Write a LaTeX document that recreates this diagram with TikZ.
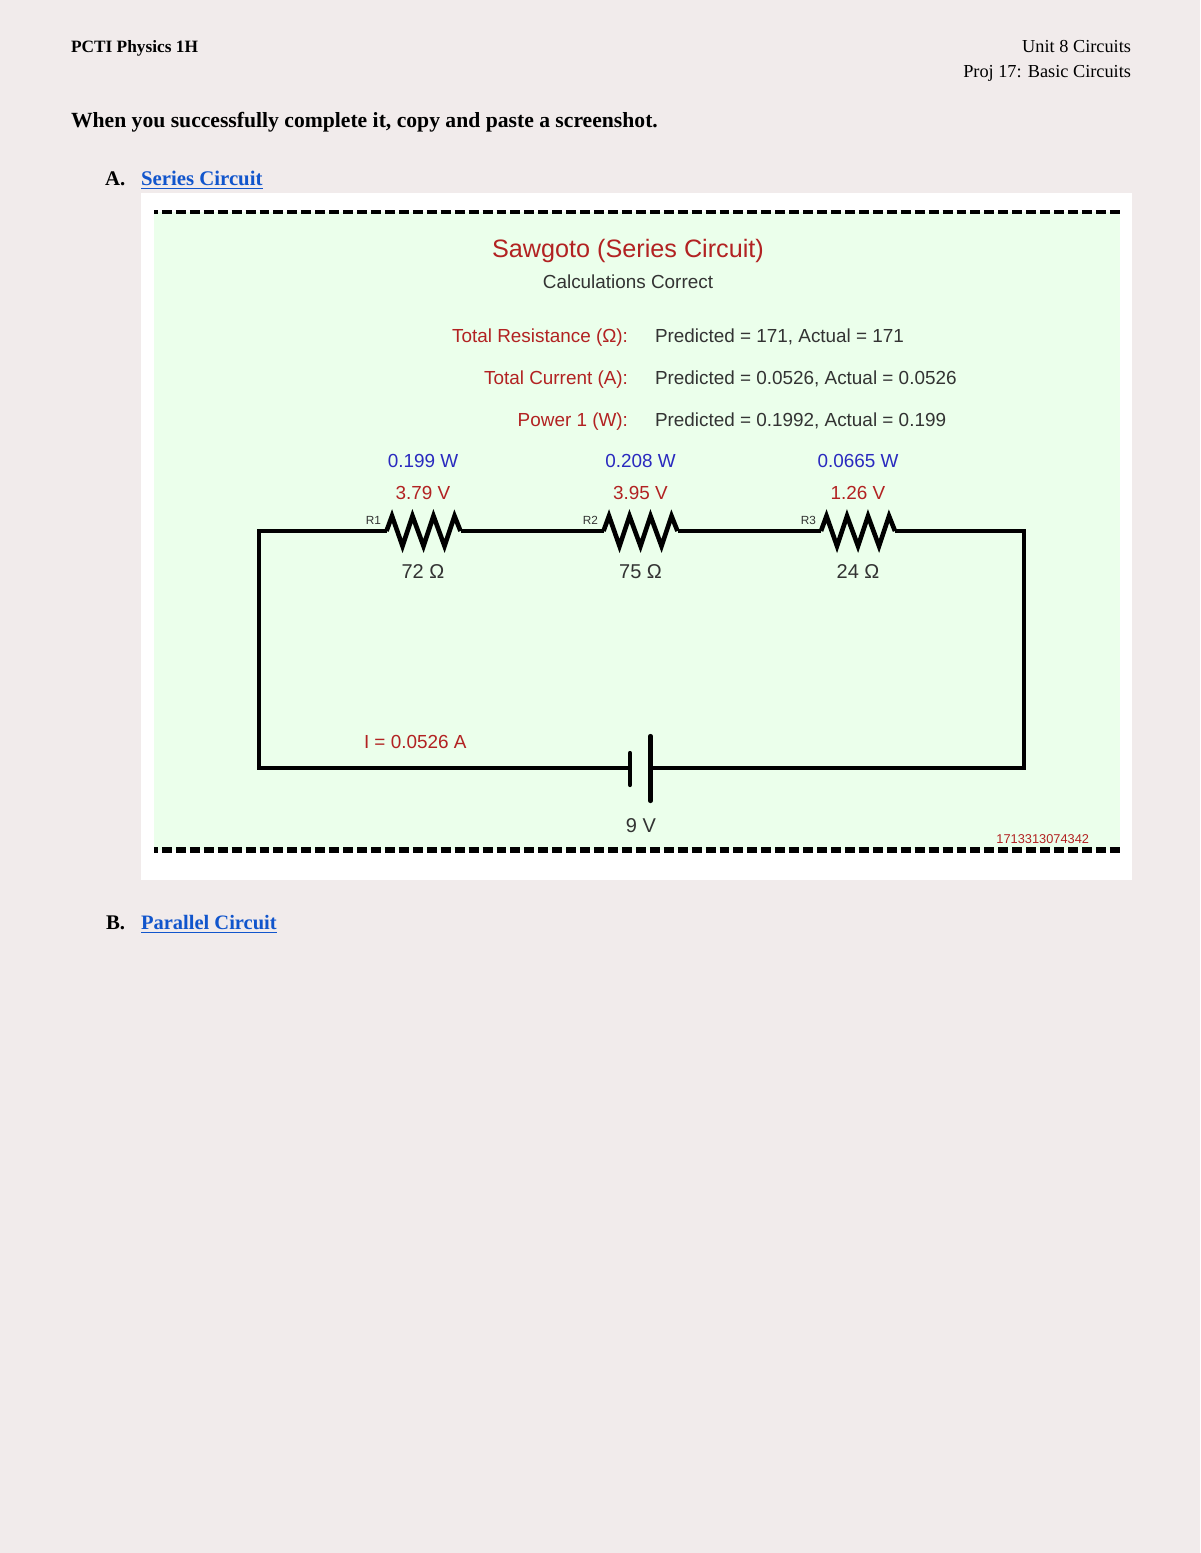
\documentclass[tikz,border=0pt]{standalone}
\usepackage{fontspec}
\setmainfont{Liberation Serif}
\setsansfont{Liberation Sans}
\definecolor{pagebg}{HTML}{F1EBEB}
\definecolor{shotbg}{HTML}{EBFFEB}
\definecolor{linkblue}{HTML}{1155CC}
\definecolor{lblred}{HTML}{B22222}
\definecolor{lblblue}{HTML}{2A2ABF}
\definecolor{lblgray}{HTML}{333333}
\tikzset{
  txt/.style={inner sep=0pt,outer sep=0pt,anchor=base},
  doc/.style={txt,font=\fontsize{9.15}{11}\selectfont},
  docbig/.style={txt,font=\fontsize{10.4}{12}\selectfont\bfseries},
  sans/.style={txt,font=\fontsize{9.45}{12}\selectfont\sffamily},
  title/.style={sans,text=lblred,font=\fontsize{12.6}{14}\selectfont\sffamily},
  tiny/.style={sans,text=lblgray,font=\fontsize{5.9}{7}\selectfont\sffamily,anchor=base east},
  wire/.style={draw=black,line width=2.1pt,line join=miter},
  zig/.style={draw=black,line width=2.3pt,line join=miter,miter limit=10},
  plate/.style={draw=black,line width=2.1pt,line cap=round},
  dashrule/.style={draw=black,dash pattern=on 4.97pt off 2pt,dash phase=3pt}
}
\newcommand{\zigzag}[1]{(#1) ++(-37,0) -- ++(5.5,-15) -- ++(10.5,30) -- ++(10,-30) -- ++(11,30) -- ++(10,-30) -- ++(11,30) -- ++(10,-30) -- ++(6,15)}
\begin{document}
\begin{tikzpicture}[x=0.5pt,y=-0.5pt]
\useasboundingbox (0,0) rectangle (1200,1553);
\fill[pagebg] (0,0) rectangle (1200,1553);
\fill[white] (141,193) rectangle (1132,880);
\fill[shotbg] (154,212) rectangle (1120,850);
\path[dashrule,line width=2pt] (154,212) -- (1120,212);
\path[dashrule,line width=2.6pt] (154,850) -- (1120,850);

% page text
\node[doc,font=\fontsize{8.66}{11}\selectfont\bfseries,anchor=base west] (hl) at (71,52) {PCTI Physics 1H};
\node[doc,anchor=base east] (hr1) at (1131,52) {Unit 8 Circuits};
\node[doc,anchor=base east] (hr2) at (1131,77) {Proj 17: Basic Circuits};
\node[docbig,font=\fontsize{10.82}{12}\selectfont\bfseries,anchor=base west] (intro) at (71,127) {When you successfully complete it, copy and paste a screenshot.};
\node[docbig,anchor=base west] (la) at (105,185) {A.};
\node[docbig,text=linkblue,anchor=base west] (lsc) at (141,185) {\underline{Series Circuit}};
\node[docbig,anchor=base west] (lb) at (106,929) {B.};
\node[docbig,text=linkblue,font=\fontsize{10.25}{12}\selectfont\bfseries,anchor=base west] (lpc) at (141,929) {\underline{Parallel Circuit}};

% screenshot text
\node[title] (ttl) at (628,257) {Sawgoto (Series Circuit)};
\node[sans,text=lblgray] (calc) at (628,288) {Calculations Correct};
\node[sans,text=lblred,anchor=base east] (k1) at (628,342) {Total Resistance (Ω):};
\node[sans,text=lblred,anchor=base east] (k2) at (628,384) {Total Current (A):};
\node[sans,text=lblred,anchor=base east] (k3) at (628,426) {Power 1 (W):};
\node[sans,text=lblgray,anchor=base west] (v1) at (655,342) {Predicted = 171, Actual = 171};
\node[sans,text=lblgray,anchor=base west] (v2) at (655,384) {Predicted = 0.0526, Actual = 0.0526};
\node[sans,text=lblgray,anchor=base west] (v3) at (655,426) {Predicted = 0.1992, Actual = 0.199};
\node[sans,text=lblblue] (p1) at (423,467) {0.199 W};
\node[sans,text=lblblue] (p2) at (640.5,467) {0.208 W};
\node[sans,text=lblblue] (p3) at (858,467) {0.0665 W};
\node[sans,text=lblred] (u1) at (423,499) {3.79 V};
\node[sans,text=lblred] (u2) at (640.5,499) {3.95 V};
\node[sans,text=lblred] (u3) at (858,499) {1.26 V};
\node[tiny] (n1) at (381,524) {R1};
\node[tiny] (n2) at (598,524) {R2};
\node[tiny] (n3) at (816,524) {R3};
\node[sans,text=lblgray,font=\fontsize{10}{12}\selectfont\sffamily] (o1) at (423,578) {72 Ω};
\node[sans,text=lblgray,font=\fontsize{10}{12}\selectfont\sffamily] (o2) at (640.5,578) {75 Ω};
\node[sans,text=lblgray,font=\fontsize{10}{12}\selectfont\sffamily] (o3) at (858,578) {24 Ω};
\node[sans,text=lblred,anchor=base west] (cur) at (364,748) {I = 0.0526 A};
\node[sans,text=lblgray,font=\fontsize{10}{12}\selectfont\sffamily] (emf) at (641,832) {9 V};
\node[sans,text=lblred,anchor=base east,font=\fontsize{6.4}{7}\selectfont\sffamily] (stamp) at (1089,843) {1713313074342};

% circuit
\coordinate (r1c) at (423.5,531);
\coordinate (r2c) at (640.5,531);
\coordinate (r3c) at (858,531);
\coordinate (r1l) at (386.5,531);
\coordinate (r1r) at (460.5,531);
\coordinate (r2l) at (603.5,531);
\coordinate (r2r) at (677.5,531);
\coordinate (r3l) at (821,531);
\coordinate (r3r) at (895,531);
\coordinate (tl) at (259,531);
\coordinate (tr) at (1024,531);
\coordinate (bl) at (259,768);
\coordinate (br) at (1024,768);
\coordinate (bneg) at (630,768);
\coordinate (bpos) at (651,768);
\path[wire] (r1l) -- (tl) -- (bl) -- (bneg);
\path[wire] (bpos) -- (br) -- (tr) -- (r3r);
\path[wire] (r1r) -- (r2l);
\path[wire] (r2r) -- (r3l);
\path[zig] \zigzag{r1c};
\path[zig] \zigzag{r2c};
\path[zig] \zigzag{r3c};
\path[plate] (630,753) -- (630,785);
\path[plate] (650.5,736) -- (650.5,801);
\end{tikzpicture}
\end{document}
